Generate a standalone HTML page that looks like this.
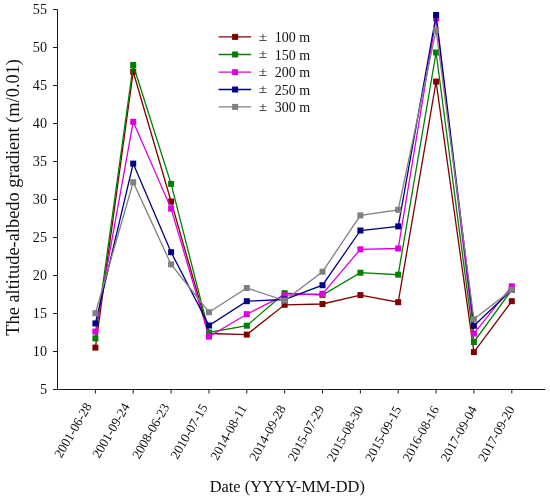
<!DOCTYPE html>
<html><head><meta charset="utf-8"><title>chart</title>
<style>html,body{margin:0;padding:0;background:#fff}svg{display:block}text{font-family:"Liberation Serif",serif;fill:#111}</style></head><body>
<svg width="550" height="499" viewBox="0 0 550 499">
<rect width="550" height="499" fill="#fff"/>
<g stroke="#1a1a1a" stroke-width="1" fill="none">
<path d="M57.5 9.5V389.5H545.4"/>
<path d="M53.0 389.5H57.5"/>
<path d="M53.0 351.5H57.5"/>
<path d="M53.0 313.5H57.5"/>
<path d="M53.0 275.5H57.5"/>
<path d="M53.0 237.5H57.5"/>
<path d="M53.0 199.5H57.5"/>
<path d="M53.0 161.5H57.5"/>
<path d="M53.0 123.5H57.5"/>
<path d="M53.0 85.5H57.5"/>
<path d="M53.0 47.5H57.5"/>
<path d="M53.0 9.5H57.5"/>
<path d="M95.4 389.5V393.5"/>
<path d="M133.2 389.5V393.5"/>
<path d="M171.1 389.5V393.5"/>
<path d="M209.0 389.5V393.5"/>
<path d="M246.8 389.5V393.5"/>
<path d="M284.6 389.5V393.5"/>
<path d="M322.5 389.5V393.5"/>
<path d="M360.4 389.5V393.5"/>
<path d="M398.2 389.5V393.5"/>
<path d="M436.1 389.5V393.5"/>
<path d="M473.9 389.5V393.5"/>
<path d="M511.8 389.5V393.5"/>
</g>
<text x="47" y="393.7" font-size="14.2" text-anchor="end">5</text>
<text x="47" y="355.7" font-size="14.2" text-anchor="end">10</text>
<text x="47" y="317.7" font-size="14.2" text-anchor="end">15</text>
<text x="47" y="279.7" font-size="14.2" text-anchor="end">20</text>
<text x="47" y="241.7" font-size="14.2" text-anchor="end">25</text>
<text x="47" y="203.7" font-size="14.2" text-anchor="end">30</text>
<text x="47" y="165.7" font-size="14.2" text-anchor="end">35</text>
<text x="47" y="127.7" font-size="14.2" text-anchor="end">40</text>
<text x="47" y="89.7" font-size="14.2" text-anchor="end">45</text>
<text x="47" y="51.7" font-size="14.2" text-anchor="end">50</text>
<text x="47" y="13.7" font-size="14.2" text-anchor="end">55</text>
<text transform="translate(92.2 406.2) rotate(-59.5)" font-size="13.1" text-anchor="end">2001-06-28</text>
<text transform="translate(130.2 406.4) rotate(-59.5)" font-size="13.1" text-anchor="end">2001-09-24</text>
<text transform="translate(169.7 406.9) rotate(-60)" font-size="13.1" text-anchor="end">2008-06-23</text>
<text transform="translate(208.0 407.1) rotate(-60)" font-size="13.1" text-anchor="end">2010-07-15</text>
<text transform="translate(247.1 408.0) rotate(-60.8)" font-size="13.1" text-anchor="end">2014-08-11</text>
<text transform="translate(286.2 408.3) rotate(-61)" font-size="13.1" text-anchor="end">2014-09-28</text>
<text transform="translate(324.7 408.5) rotate(-61)" font-size="13.1" text-anchor="end">2015-07-29</text>
<text transform="translate(363.6 409.0) rotate(-61)" font-size="13.1" text-anchor="end">2015-08-30</text>
<text transform="translate(401.8 409.0) rotate(-61)" font-size="13.1" text-anchor="end">2015-09-15</text>
<text transform="translate(439.4 409.0) rotate(-61)" font-size="13.1" text-anchor="end">2016-08-16</text>
<text transform="translate(477.3 409.1) rotate(-61)" font-size="13.1" text-anchor="end">2017-09-04</text>
<text transform="translate(515.0 409.1) rotate(-61)" font-size="13.1" text-anchor="end">2017-09-20</text>
<text transform="translate(18.8 197.4) rotate(-90)" font-size="18.4" text-anchor="middle">The altitude-albedo gradient (m/0.01)</text>
<text x="287.3" y="491.8" font-size="16.4" text-anchor="middle">Date (YYYY-MM-DD)</text>
<g stroke="#800000" fill="#800000"><polyline points="95.4,347.6 133.2,71.7 171.1,201.5 209.0,333.5 246.8,334.6 284.6,304.8 322.5,304.0 360.4,295.1 398.2,302.2 436.1,81.6 473.9,352.1 511.8,301.2" fill="none" stroke-width="1.3"/>
<rect x="92.4" y="344.6" width="6" height="6" stroke="none"/>
<rect x="130.2" y="68.7" width="6" height="6" stroke="none"/>
<rect x="168.1" y="198.5" width="6" height="6" stroke="none"/>
<rect x="206.0" y="330.5" width="6" height="6" stroke="none"/>
<rect x="243.8" y="331.6" width="6" height="6" stroke="none"/>
<rect x="281.6" y="301.8" width="6" height="6" stroke="none"/>
<rect x="319.5" y="301.0" width="6" height="6" stroke="none"/>
<rect x="357.4" y="292.1" width="6" height="6" stroke="none"/>
<rect x="395.2" y="299.2" width="6" height="6" stroke="none"/>
<rect x="433.1" y="78.6" width="6" height="6" stroke="none"/>
<rect x="470.9" y="349.1" width="6" height="6" stroke="none"/>
<rect x="508.8" y="298.2" width="6" height="6" stroke="none"/>
</g>
<g stroke="#008000" fill="#008000"><polyline points="95.4,338.4 133.2,65.0 171.1,183.9 209.0,332.5 246.8,325.7 284.6,293.2 322.5,295.0 360.4,272.7 398.2,274.7 436.1,52.5 473.9,342.0 511.8,290.0" fill="none" stroke-width="1.3"/>
<rect x="92.4" y="335.4" width="6" height="6" stroke="none"/>
<rect x="130.2" y="62.0" width="6" height="6" stroke="none"/>
<rect x="168.1" y="180.9" width="6" height="6" stroke="none"/>
<rect x="206.0" y="329.5" width="6" height="6" stroke="none"/>
<rect x="243.8" y="322.7" width="6" height="6" stroke="none"/>
<rect x="281.6" y="290.2" width="6" height="6" stroke="none"/>
<rect x="319.5" y="292.0" width="6" height="6" stroke="none"/>
<rect x="357.4" y="269.7" width="6" height="6" stroke="none"/>
<rect x="395.2" y="271.7" width="6" height="6" stroke="none"/>
<rect x="433.1" y="49.5" width="6" height="6" stroke="none"/>
<rect x="470.9" y="339.0" width="6" height="6" stroke="none"/>
<rect x="508.8" y="287.0" width="6" height="6" stroke="none"/>
</g>
<g stroke="#dd00dd" fill="#dd00dd"><polyline points="95.4,331.6 133.2,121.8 171.1,208.6 209.0,336.6 246.8,314.2 284.6,295.2 322.5,293.8 360.4,249.3 398.2,248.5 436.1,18.5 473.9,333.6 511.8,286.3" fill="none" stroke-width="1.3"/>
<rect x="92.4" y="328.6" width="6" height="6" stroke="none"/>
<rect x="130.2" y="118.8" width="6" height="6" stroke="none"/>
<rect x="168.1" y="205.6" width="6" height="6" stroke="none"/>
<rect x="206.0" y="333.6" width="6" height="6" stroke="none"/>
<rect x="243.8" y="311.2" width="6" height="6" stroke="none"/>
<rect x="281.6" y="292.2" width="6" height="6" stroke="none"/>
<rect x="319.5" y="290.8" width="6" height="6" stroke="none"/>
<rect x="357.4" y="246.3" width="6" height="6" stroke="none"/>
<rect x="395.2" y="245.5" width="6" height="6" stroke="none"/>
<rect x="433.1" y="15.5" width="6" height="6" stroke="none"/>
<rect x="470.9" y="330.6" width="6" height="6" stroke="none"/>
<rect x="508.8" y="283.3" width="6" height="6" stroke="none"/>
</g>
<g stroke="#000080" fill="#000080"><polyline points="95.4,323.4 133.2,163.6 171.1,252.2 209.0,325.5 246.8,301.2 284.6,299.5 322.5,285.2 360.4,230.5 398.2,226.4 436.1,15.0 473.9,325.8 511.8,290.0" fill="none" stroke-width="1.3"/>
<rect x="92.4" y="320.4" width="6" height="6" stroke="none"/>
<rect x="130.2" y="160.6" width="6" height="6" stroke="none"/>
<rect x="168.1" y="249.2" width="6" height="6" stroke="none"/>
<rect x="206.0" y="322.5" width="6" height="6" stroke="none"/>
<rect x="243.8" y="298.2" width="6" height="6" stroke="none"/>
<rect x="281.6" y="296.5" width="6" height="6" stroke="none"/>
<rect x="319.5" y="282.2" width="6" height="6" stroke="none"/>
<rect x="357.4" y="227.5" width="6" height="6" stroke="none"/>
<rect x="395.2" y="223.4" width="6" height="6" stroke="none"/>
<rect x="433.1" y="12.0" width="6" height="6" stroke="none"/>
<rect x="470.9" y="322.8" width="6" height="6" stroke="none"/>
<rect x="508.8" y="287.0" width="6" height="6" stroke="none"/>
</g>
<g stroke="#808080" fill="#808080"><polyline points="95.4,313.2 133.2,182.2 171.1,264.4 209.0,312.2 246.8,288.0 284.6,300.5 322.5,271.7 360.4,215.4 398.2,209.8 436.1,30.1 473.9,319.1 511.8,290.0" fill="none" stroke-width="1.3"/>
<rect x="92.4" y="310.2" width="6" height="6" stroke="none"/>
<rect x="130.2" y="179.2" width="6" height="6" stroke="none"/>
<rect x="168.1" y="261.4" width="6" height="6" stroke="none"/>
<rect x="206.0" y="309.2" width="6" height="6" stroke="none"/>
<rect x="243.8" y="285.0" width="6" height="6" stroke="none"/>
<rect x="281.6" y="297.5" width="6" height="6" stroke="none"/>
<rect x="319.5" y="268.7" width="6" height="6" stroke="none"/>
<rect x="357.4" y="212.4" width="6" height="6" stroke="none"/>
<rect x="395.2" y="206.8" width="6" height="6" stroke="none"/>
<rect x="433.1" y="27.1" width="6" height="6" stroke="none"/>
<rect x="470.9" y="316.1" width="6" height="6" stroke="none"/>
<rect x="508.8" y="287.0" width="6" height="6" stroke="none"/>
</g>
<path d="M218.6 36.9H251.2" stroke="#800000" stroke-width="1.3"/><rect x="232.1" y="33.9" width="6" height="6" fill="#800000"/>
<text transform="translate(258.8 40.6) scale(1.1 0.84)" font-size="14">±</text><text x="274.8" y="42.1" font-size="14">100 m</text>
<path d="M218.6 54.5H251.2" stroke="#008000" stroke-width="1.3"/><rect x="232.1" y="51.5" width="6" height="6" fill="#008000"/>
<text transform="translate(258.8 58.2) scale(1.1 0.84)" font-size="14">±</text><text x="274.8" y="59.7" font-size="14">150 m</text>
<path d="M218.6 72.2H251.2" stroke="#dd00dd" stroke-width="1.3"/><rect x="232.1" y="69.2" width="6" height="6" fill="#dd00dd"/>
<text transform="translate(258.8 75.9) scale(1.1 0.84)" font-size="14">±</text><text x="274.8" y="77.4" font-size="14">200 m</text>
<path d="M218.6 89.5H251.2" stroke="#000080" stroke-width="1.3"/><rect x="232.1" y="86.5" width="6" height="6" fill="#000080"/>
<text transform="translate(258.8 93.2) scale(1.1 0.84)" font-size="14">±</text><text x="274.8" y="94.7" font-size="14">250 m</text>
<path d="M218.6 106.9H251.2" stroke="#808080" stroke-width="1.3"/><rect x="232.1" y="103.9" width="6" height="6" fill="#808080"/>
<text transform="translate(258.8 110.6) scale(1.1 0.84)" font-size="14">±</text><text x="274.8" y="112.1" font-size="14">300 m</text>
</svg></body></html>
